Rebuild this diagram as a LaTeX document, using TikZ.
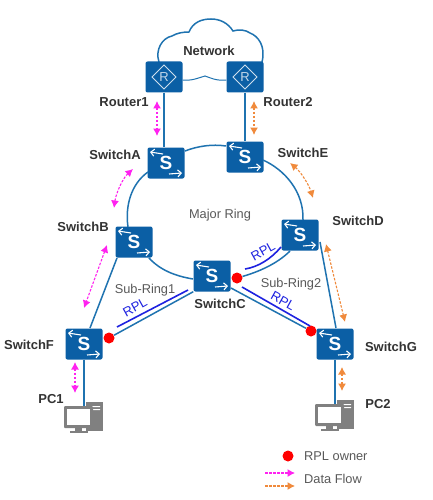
\documentclass[tikz,border=0pt]{standalone}
\usepackage{fontspec}
\setmainfont{Liberation Sans}
\usetikzlibrary{arrows.meta}
\definecolor{netblue}{HTML}{0B5FA5}
\definecolor{linkblue}{HTML}{1F73B0}
\definecolor{rplblue}{HTML}{1E22E0}
\definecolor{flowmag}{HTML}{FF22F0}
\definecolor{floworg}{HTML}{F08A3C}
\definecolor{pcgray}{HTML}{808080}
\newcommand{\switchicon}[1]{%
  \begin{scope}[shift={(#1.center)}]
    \draw[iconline] (-3,-9) -- (-16,-11);
    \draw[iconline] (3,11) -- (16,10);
  \end{scope}}
\newcommand{\routericon}[1]{%
  \draw[white!80!netblue,line width=1pt] ([xshift=-12pt]#1.center) -- ([yshift=12pt]#1.center) -- ([xshift=12pt]#1.center) -- ([yshift=-12pt]#1.center) -- cycle;}
\tikzset{
  x=1pt,y=-1pt,
  devbox/.style={rectangle,rounded corners=2pt,fill=netblue,minimum width=37pt,minimum height=31pt,inner sep=0pt,text=white},
  switchbox/.style={devbox,font=\fontsize{19}{19}\selectfont\bfseries},
  routerbox/.style={devbox,text=white!75!netblue,font=\fontsize{13}{13}\selectfont},
  iconline/.style={draw=white,line width=1.1pt,-{Straight Barb[length=3.5pt,width=7pt]}},
  netlink/.style={draw=linkblue,line width=1.5pt},
  rplline/.style={draw=rplblue,line width=1.6pt},
  flowbase/.style={line width=1.1pt,dash pattern=on 2.5pt off 1.5pt},
  flowmagenta/.style={flowbase,draw=flowmag,{Latex[length=7.5pt,width=8pt,fill=flowmag]}-{Latex[length=7.5pt,width=8pt,fill=flowmag]}},
  floworange/.style={flowbase,draw=floworg,{Latex[length=7.5pt,width=8pt,fill=floworg]}-{Latex[length=7.5pt,width=8pt,fill=floworg]}},
  devlabel/.style={text=black!80,font=\fontsize{13}{13}\selectfont\bfseries,inner sep=0pt},
  plainlabel/.style={text=black!65,font=\fontsize{12.8}{13}\selectfont,inner sep=0pt},
  rpllabel/.style={text=rplblue,font=\fontsize{13}{13}\selectfont,inner sep=0pt},
  owner/.style={circle,fill=red,minimum size=11pt,inner sep=0pt},
  pc/.pic={
    \fill[pcgray] (22,-3) rectangle (39,26);
    \fill[white] (25,1) rectangle (36,2) (25,4) rectangle (36,5);
    \fill[pcgray,rounded corners=1pt] (0,1) rectangle (29,23);
    \fill[white] (3,4) rectangle (26,20);
    \fill[pcgray] (11,23) rectangle (18,26);
    \fill[pcgray] (6,26) rectangle (24,28);
  }
}
\begin{document}
\begin{tikzpicture}
\useasboundingbox (0,0) rectangle (433,500);
\fill[white] (0,0) rectangle (433,500);
% cloud
\coordinate (cloudL) at (159,62);
\coordinate (cloudR) at (262,62);
\draw[netlink] (cloudL) .. controls (155,50) and (162,38) .. (172,36)
  .. controls (177,33) and (183,32) .. (189,32)
  .. controls (193,22) and (202,19) .. (211,19)
  .. controls (220,19) and (228,23) .. (233,31)
  .. controls (239,29) and (246,30) .. (250,33)
  .. controls (258,36) and (266,46) .. (cloudR);
% devices
\node[routerbox] (R1) at (164,77) {R};
\node[routerbox] (R2) at (245,77) {R};
\routericon{R1}
\routericon{R2}
\node[switchbox] (A) at (166,163) {S};
\node[switchbox] (E) at (245,157) {S};
\node[switchbox] (B) at (134,242) {S};
\node[switchbox] (C) at (212,276) {S};
\node[switchbox] (D) at (300,235) {S};
\node[switchbox] (F) at (84,344) {S};
\node[switchbox] (G) at (335,344) {S};
\switchicon{A}\switchicon{E}\switchicon{B}\switchicon{C}\switchicon{D}\switchicon{F}\switchicon{G}
\coordinate (PC1) at (64,405);
\coordinate (PC2) at (315,403);
\pic at (PC1) {pc};
\pic at (PC2) {pc};
% rpl owners
\node[owner] (oF) at (109,338) {};
\node[owner] (oC) at (237,278) {};
\node[owner] (oG) at (311,331) {};
% links
\draw[netlink,line width=1pt] ([yshift=-3pt]R1.east) .. controls (192,81) and (198,78) .. (205,76) .. controls (211,78) and (216,81) .. ([yshift=-3pt]R2.west);
\draw[netlink] (R1.south) -- (R1.south |- A.north);
\draw[netlink] (R2.south) -- (E.north);
\draw[netlink] (185,151) .. controls (198,146) and (212,144) .. (226,146);
\draw[netlink] (263,160) .. controls (285,170) and (304,192) .. (303,220);
\draw[netlink] (148,172) .. controls (131,184) and (125,206) .. (128,227);
\draw[netlink] (149,258) .. controls (160,270) and (175,276) .. (193,279);
\draw[netlink] (oC) .. controls (258,272) and (277,264) .. (290,251);
\draw[netlink] (117,258) -- (90,328);
\draw[netlink] (oF) -- (C.south west);
\draw[netlink] (231,288) -- (oG);
\draw[netlink] (320,242) -- (336,328);
\draw[netlink] (F.south) -- (84,406);
\draw[netlink] (G.south) -- (335,404);
% rpl segments
\coordinate (rF1) at (117,327); \coordinate (rF2) at (188,290);
\coordinate (rG1) at (242,287); \coordinate (rG2) at (310,326);
\coordinate (rD1) at (245,269); \coordinate (rD2) at (281,247);
\draw[rplline] (rF1) -- (rF2);
\draw[rplline] (rG1) -- (rG2);
\draw[rplline] (rD1) .. controls (258,267) and (271,259) .. (rD2);
% flows
\coordinate (m1a) at (157,101); \coordinate (m1b) at (157,136);
\coordinate (o1a) at (254,101); \coordinate (o1b) at (254,135);
\coordinate (m2a) at (133,169); \coordinate (m2b) at (114,208);
\coordinate (o2a) at (290,163); \coordinate (o2b) at (313,198);
\coordinate (m3a) at (107,245); \coordinate (m3b) at (84,308);
\coordinate (o3a) at (326,244); \coordinate (o3b) at (345,322);
\coordinate (m4a) at (75,362); \coordinate (m4b) at (75,393);
\coordinate (o4a) at (342,367); \coordinate (o4b) at (342,391);
\draw[flowmagenta] (m1a) -- (m1b);
\draw[floworange] (o1a) -- (o1b);
\draw[flowmagenta] (m2a) .. controls (123,178) and (116,193) .. (m2b);
\draw[floworange] (o2a) .. controls (301,172) and (309,185) .. (o2b);
\draw[flowmagenta] (m3a) -- (m3b);
\draw[floworange] (o3a) -- (o3b);
\draw[flowmagenta] (m4a) -- (m4b);
\draw[floworange] (o4a) -- (o4b);
% labels
\node[devlabel] (lNet) at (209,51) {Network};
\node[devlabel] (lR1) at (124,102) {Router1};
\node[devlabel] (lR2) at (288,102) {Router2};
\node[devlabel] (lA) at (115,155) {SwitchA};
\node[devlabel] (lE) at (303,153) {SwitchE};
\node[devlabel] (lB) at (83,227) {SwitchB};
\node[devlabel] (lC) at (220,304) {SwitchC};
\node[devlabel] (lD) at (358,221) {SwitchD};
\node[devlabel] (lF) at (29,345) {SwitchF};
\node[devlabel] (lG) at (391,347) {SwitchG};
\node[devlabel] (lP1) at (51,399) {PC1};
\node[devlabel] (lP2) at (378,404) {PC2};
\node[plainlabel] (lM) at (220,215) {Major Ring};
\node[plainlabel] (lS1) at (145,290) {Sub-Ring1};
\node[plainlabel] (lS2) at (291,284) {Sub-Ring2};
\node[rpllabel,rotate=29] (lr1) at (135,307) {RPL};
\node[rpllabel,rotate=29] (lr2) at (263,251) {RPL};
\node[rpllabel,rotate=-29] (lr3) at (283,301) {RPL};
% legend
\node[owner] (legO) at (288,456) {};
\node[plainlabel,anchor=west] (legT1) at (304,456) {RPL owner};
\node[plainlabel,anchor=west] (legT2) at (304,479) {Data Flow};
\coordinate (lm1) at (265,473); \coordinate (lm2) at (295,473);
\coordinate (lo1) at (265,486); \coordinate (lo2) at (295,486);
\draw[flowmagenta,-{Latex[length=7.5pt,width=8pt,fill=flowmag]}] (lm1) -- (lm2);
\draw[floworange,-{Latex[length=7.5pt,width=8pt,fill=floworg]}] (lo1) -- (lo2);
\end{tikzpicture}
\end{document}
